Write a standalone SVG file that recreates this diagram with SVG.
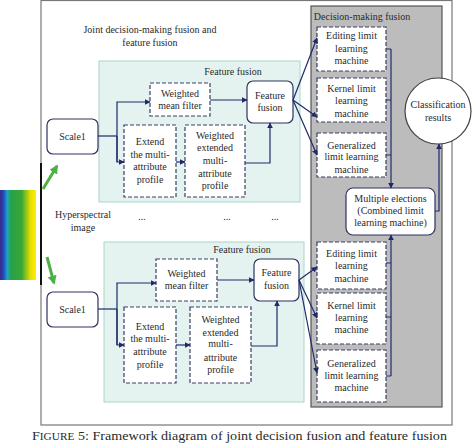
<svg xmlns="http://www.w3.org/2000/svg" width="474" height="444" viewBox="0 0 474 444">
<defs>
<linearGradient id="hs" x1="0" y1="0" x2="1" y2="0">
<stop offset="0" stop-color="#3a2a88"/>
<stop offset="0.1" stop-color="#2448c0"/>
<stop offset="0.2" stop-color="#1aa6c8"/>
<stop offset="0.3" stop-color="#28a048"/>
<stop offset="0.6" stop-color="#38a838"/>
<stop offset="0.85" stop-color="#e8e000"/>
<stop offset="1" stop-color="#ffee00"/>
</linearGradient>
<marker id="ar" viewBox="0 0 10 10" refX="9" refY="5" markerWidth="6" markerHeight="6" orient="auto" markerUnits="userSpaceOnUse">
<path d="M0,0 L10,5 L0,10 z" fill="#1f2a6b"/>
</marker>
<marker id="ga" viewBox="0 0 10 10" refX="8" refY="5" markerWidth="9" markerHeight="9" orient="auto" markerUnits="userSpaceOnUse">
<path d="M0,0 L10,5 L0,10 z" fill="#4cb043"/>
</marker>
</defs>
<style>
text{font-family:"Liberation Serif","Times New Roman",serif;font-size:10px;fill:#2a2a2a;text-anchor:middle}
.dash{fill:#fff;stroke:#3a3f66;stroke-width:1.2;stroke-dasharray:4 2}
.rnd{fill:#fff;stroke:#2d3360;stroke-width:1.2}
.ff{fill:#e4f3ef;stroke:#a9d6c9;stroke-width:1}
.cn{fill:none;stroke:#1f2a6b;stroke-width:1.2}
.g{fill:none;stroke:#4cb043;stroke-width:3}
</style>
<rect width="474" height="444" fill="#fff"/>
<rect x="41" y="0.5" width="411" height="424.5" fill="#fff" stroke="#777" stroke-width="1.2"/>
<g id="hyperspectral">
<rect x="0" y="190" width="36" height="90" fill="url(#hs)"/>
<line x1="41" y1="163" x2="41" y2="285" stroke="#111" stroke-width="2"/>
<text x="83" y="218">Hyperspectral</text>
<text x="83" y="231">image</text>
</g>
<text x="150" y="33">Joint decision-making fusion and</text>
<text x="150" y="46">feature fusion</text>
<g id="decision-panel">
<rect x="311" y="6" width="131" height="401" fill="#bcbcbc" stroke="#555" stroke-width="1.2"/>
<text x="362" y="20">Decision-making fusion</text>
</g>
<g id="ff-top">
<rect class="ff" x="99" y="61" width="201" height="141"/>
<text x="233" y="75">Feature fusion</text>
</g>
<g id="ff-bottom">
<rect class="ff" x="104" y="242" width="200" height="160"/>
<text x="242" y="253">Feature fusion</text>
</g>
<g id="scale1-top"><rect class="rnd" x="47" y="119" width="51" height="35" rx="6"/><text x="72.5" y="140">Scale1</text></g>
<g id="wmf-top"><rect class="dash" x="150" y="83" width="60" height="33"/><text x="180" y="97">Weighted</text><text x="180" y="109">mean filter</text></g>
<g id="emap-top"><rect class="dash" x="124" y="125" width="52" height="72"/><text x="150" y="145">Extend</text><text x="150" y="158">the multi-</text><text x="150" y="170">attribute</text><text x="150" y="183">profile</text></g>
<g id="wemap-top"><rect class="dash" x="185" y="125" width="60" height="72"/><text x="215" y="139">Weighted</text><text x="215" y="151">extended</text><text x="215" y="164">multi-</text><text x="215" y="177">attribute</text><text x="215" y="189">profile</text></g>
<g id="fusion-top"><rect class="rnd" x="247" y="81" width="46" height="42" rx="6"/><text x="270" y="99">Feature</text><text x="270" y="111">fusion</text></g>
<g id="scale1-bot"><rect class="rnd" x="47" y="292" width="51" height="35" rx="6"/><text x="72.5" y="313">Scale1</text></g>
<g id="wmf-bot"><rect class="dash" x="156" y="259" width="61" height="42"/><text x="186.5" y="277">Weighted</text><text x="186.5" y="289">mean filter</text></g>
<g id="emap-bot"><rect class="dash" x="124" y="307" width="52" height="76"/><text x="150" y="330">Extend</text><text x="150" y="342">the multi-</text><text x="150" y="355">attribute</text><text x="150" y="368">profile</text></g>
<g id="wemap-bot"><rect class="dash" x="190" y="307" width="61" height="76"/><text x="220.5" y="323">Weighted</text><text x="220.5" y="336">extended</text><text x="220.5" y="347">multi-</text><text x="220.5" y="361">attribute</text><text x="220.5" y="373">profile</text></g>
<g id="fusion-bot"><rect class="rnd" x="254" y="259" width="45" height="42" rx="6"/><text x="276.5" y="276">Feature</text><text x="276.5" y="289">fusion</text></g>
<g id="elm-top"><rect class="dash" x="317" y="27" width="69" height="44"/><text x="351.5" y="39">Editing limit</text><text x="351.5" y="52">learning</text><text x="351.5" y="64">machine</text></g>
<g id="klm-top"><rect class="dash" x="317" y="78" width="69" height="44"/><text x="351.5" y="92">Kernel limit</text><text x="351.5" y="104">learning</text><text x="351.5" y="117">machine</text></g>
<g id="glm-top"><rect class="dash" x="317" y="133" width="69" height="44"/><text x="351.5" y="149">Generalized</text><text x="351.5" y="160">limit learning</text><text x="351.5" y="173">machine</text></g>
<g id="elm-bot"><rect class="dash" x="317" y="242" width="69" height="47"/><text x="351.5" y="257">Editing limit</text><text x="351.5" y="269">learning</text><text x="351.5" y="282">machine</text></g>
<g id="klm-bot"><rect class="dash" x="317" y="293" width="69" height="51"/><text x="351.5" y="309">Kernel limit</text><text x="351.5" y="321">learning</text><text x="351.5" y="333">machine</text></g>
<g id="glm-bot"><rect class="dash" x="317" y="350" width="69" height="52"/><text x="351.5" y="367">Generalized</text><text x="351.5" y="379">limit learning</text><text x="351.5" y="391">machine</text></g>
<g id="elections"><rect class="rnd" x="346" y="188" width="89" height="47" rx="7"/><text x="390.5" y="202">Multiple elections</text><text x="390.5" y="214">(Combined limit</text><text x="390.5" y="226">learning machine)</text></g>
<g id="classification"><circle cx="438" cy="111" r="33" fill="#fff" stroke="#444" stroke-width="1.2"/><text x="438" y="108">Classification</text><text x="438" y="121">results</text></g>
<g id="dots"><text x="142" y="220">...</text><text x="227" y="220">...</text><text x="275" y="220">...</text></g>
<g id="connectors">
<line class="g" x1="43" y1="189" x2="57" y2="166" marker-end="url(#ga)"/>
<line class="g" x1="47" y1="257" x2="54" y2="283" marker-end="url(#ga)"/>
<path class="cn" d="M98,136 H117"/>
<path class="cn" d="M117,162 V102 H150" marker-end="url(#ar)"/>
<path class="cn" d="M117,136 V162 H124" marker-end="url(#ar)"/>
<path class="cn" d="M176,162 H185" marker-end="url(#ar)"/>
<path class="cn" d="M210,100 H247" marker-end="url(#ar)"/>
<path class="cn" d="M245,163 H270 V123" marker-end="url(#ar)"/>
<path class="cn" d="M293,100 L317,38" marker-end="url(#ar)"/>
<path class="cn" d="M293,100 L317,117" marker-end="url(#ar)"/>
<path class="cn" d="M293,100 L317,155" marker-end="url(#ar)"/>
<path class="cn" d="M386,49 H391 M386,100 H391 M386,155 H391"/>
<path class="cn" d="M391,49 V188" marker-end="url(#ar)"/>
<path class="cn" d="M435,211 H439 V144" marker-end="url(#ar)"/>
<path class="cn" d="M98,309 H117"/>
<path class="cn" d="M117,345 V283 H156" marker-end="url(#ar)"/>
<path class="cn" d="M117,309 V345 H124" marker-end="url(#ar)"/>
<path class="cn" d="M176,345 H190" marker-end="url(#ar)"/>
<path class="cn" d="M217,280 H254" marker-end="url(#ar)"/>
<path class="cn" d="M251,346 H277 V301" marker-end="url(#ar)"/>
<path class="cn" d="M299,280 L317,267" marker-end="url(#ar)"/>
<path class="cn" d="M299,280 L317,318" marker-end="url(#ar)"/>
<path class="cn" d="M299,280 L317,373" marker-end="url(#ar)"/>
<path class="cn" d="M386,263 H391 M386,317 H391 M386,376 H391"/>
<path class="cn" d="M391,376 V235" marker-end="url(#ar)"/>
</g>
<text x="239.5" y="440" style="font-size:12.5px" textLength="415" lengthAdjust="spacingAndGlyphs">F<tspan style="font-size:10px">IGURE</tspan> 5: Framework diagram of joint decision fusion and feature fusion</text>
</svg>
